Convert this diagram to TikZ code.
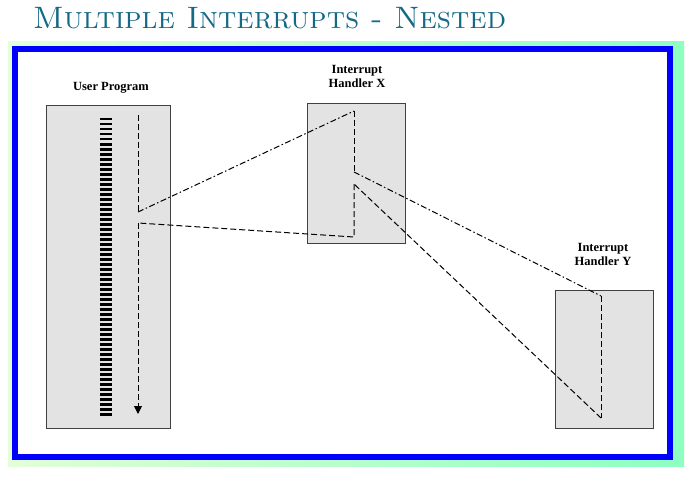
\documentclass[tikz,border=0pt]{standalone}
\usepackage{fontspec}
\newfontfamily\lserif{Liberation Serif}
\usetikzlibrary{arrows.meta}
\definecolor{titlec}{RGB}{20,105,135}
\begin{document}
\begin{tikzpicture}[x=1pt,y=-1pt,
  box/.style={draw=black!75,fill=black!11,line width=0.8pt},
  lbl/.style={font=\lserif\bfseries\fontsize{12.5}{14}\selectfont,align=center},
  dsh/.style={line width=1pt,dash pattern=on 6pt off 3pt},
  dd/.style={line width=1pt,dash pattern=on 6pt off 2.5pt on 1.5pt off 2.5pt}]
\useasboundingbox (0,0) rectangle (689,487);
\node[anchor=west,text=titlec,font=\fontsize{31}{33}\selectfont,inner sep=0pt] (title) at (33,18) {\textsc{Multiple Interrupts - Nested}};
\shade[left color=yellow!25!green!15,right color=green!55!cyan!45] (8,42) rectangle (684,466);
\fill[white] (12,46) rectangle (673,460);
\draw[blue,line width=6pt] (15,49) rectangle (670,457);
\node[box,minimum width=124pt,minimum height=323pt,anchor=north west] (up) at (46,105) {};
\node[box,minimum width=98pt,minimum height=140pt,anchor=north west] (hx) at (307,103) {};
\node[box,minimum width=98pt,minimum height=138pt,anchor=north west] (hy) at (555,290) {};
\node[lbl] (lup) at (111,88) {User Program};
\node[lbl] (lhx) at (357,76) {Interrupt\\Handler X};
\node[lbl] (lhy) at (603,254) {Interrupt\\Handler Y};
\foreach \i in {0,...,59} \fill (100,118+5*\i) rectangle (112,120.5+5*\i);
\coordinate (a1) at (138,115); \coordinate (a2) at (138,212);
\coordinate (a3) at (138,223); \coordinate (a4) at (138,414);
\coordinate (x1) at (354,111); \coordinate (x2) at (354,172);
\coordinate (x3) at (354,184); \coordinate (x4) at (354,237);
\coordinate (y1) at (601,296); \coordinate (y2) at (601,418);
\draw[dsh] (a1) -- (a2);
\draw[dsh,-{Triangle[length=8pt,width=8pt]}] (a3) -- (a4);
\draw[dd] (a2) -- (x1);
\draw[dsh] (x1) -- (x2);
\draw[dd] (x2) -- (y1);
\draw[dsh] (y1) -- (y2);
\draw[dsh] (y2) -- (x3);
\draw[dsh] (x3) -- (x4) -- (a3);
\end{tikzpicture}
\end{document}
